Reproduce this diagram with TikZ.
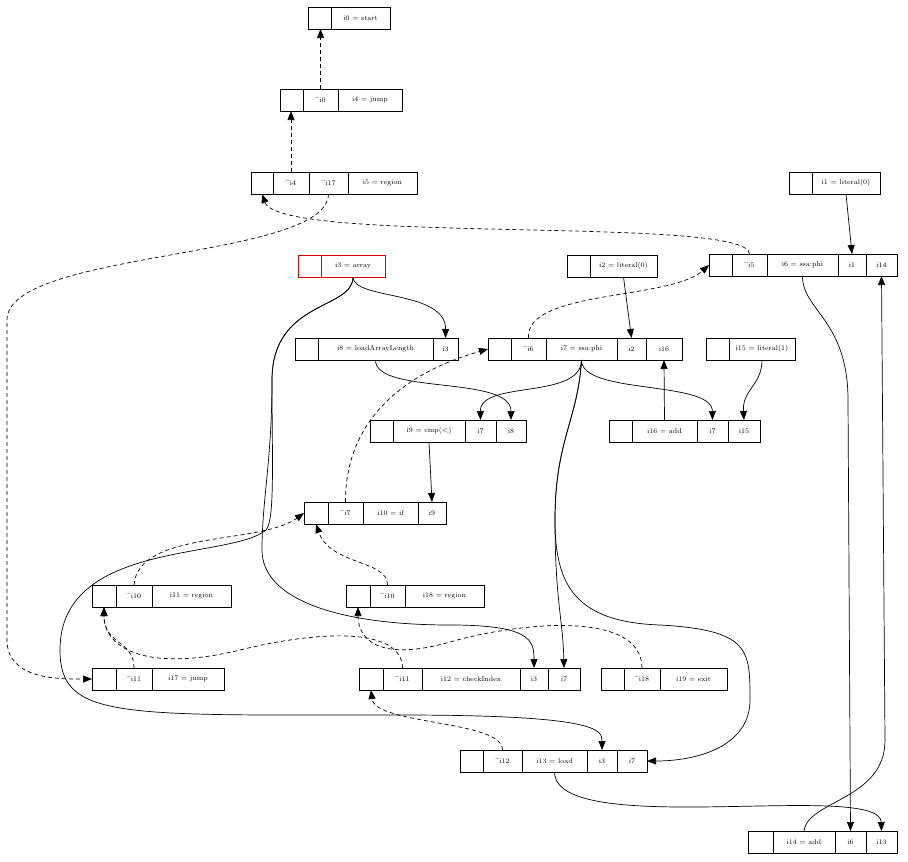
\documentclass[tikz,border=0pt]{standalone}
\usetikzlibrary{arrows.meta}
\tikzset{
  cell/.style={draw=black,line width=0.7pt,minimum height=22pt,inner sep=0pt,outer sep=0pt,font=\fontsize{7}{8}\selectfont},
  red cell/.style={cell,draw=red!85!black},
  flow/.style={draw=black,line width=0.7pt,-{Triangle[length=9pt,width=7pt]}},
  ctrl/.style={flow,dash pattern=on 4pt off 3pt}
}
% one cell of a record: style, name, left, right, y, text
\newcommand{\cell}[6]{%
  \pgfmathsetmacro\cw{#4-#3}\pgfmathsetmacro\cx{(#3+#4)/2}%
  \node[#1,minimum width=\cw pt] (#2) at (\cx,#5) {#6};}
\newcommand{\up}{\textasciicircum}
\begin{document}
\begin{tikzpicture}[x=1pt,y=1pt,yscale=-1]
\useasboundingbox (0,0) rectangle (908,862);

% records
\cell{cell}{i0x}{308}{331}{18}{}
\cell{cell}{i0}{331}{390}{18}{i0 = start}

\cell{cell}{i4x}{280}{303}{100}{}
\cell{cell}{i4p0}{303}{338}{100}{\up i0}
\cell{cell}{i4}{338}{402}{100}{i4 = jump}

\cell{cell}{i5x}{251}{273}{183}{}
\cell{cell}{i5p4}{273}{309}{183}{\up i4}
\cell{cell}{i5p17}{309}{348}{183}{\up i17}
\cell{cell}{i5}{348}{417}{183}{i5 = region}

\cell{cell}{i1x}{789}{812}{183}{}
\cell{cell}{i1}{812}{880}{183}{i1 = literal(0)}

\cell{cell}{i6x}{709}{732}{265}{}
\cell{cell}{i6p5}{732}{767}{265}{\up i5}
\cell{cell}{i6}{767}{838}{265}{i6 = ssa:phi}
\cell{cell}{i6a1}{838}{866}{265}{i1}
\cell{cell}{i6a14}{866}{897}{265}{i14}

\cell{red cell}{i3x}{298}{321}{266}{}
\cell{red cell}{i3}{321}{385}{266}{i3 = array}

\cell{cell}{i2x}{567}{590}{266}{}
\cell{cell}{i2}{590}{657}{266}{i2 = literal(0)}

\cell{cell}{i8x}{295}{318}{349}{}
\cell{cell}{i8}{318}{433}{349}{i8 = loadArrayLength}
\cell{cell}{i8a3}{433}{458}{349}{i3}

\cell{cell}{i7x}{488}{511}{349}{}
\cell{cell}{i7p6}{511}{546}{349}{\up i6}
\cell{cell}{i7}{546}{617}{349}{i7 = ssa:phi}
\cell{cell}{i7a2}{617}{646}{349}{i2}
\cell{cell}{i7a16}{646}{682}{349}{i16}

\cell{cell}{i15x}{706}{729}{349}{}
\cell{cell}{i15}{729}{795}{349}{i15 = literal(1)}

\cell{cell}{i9x}{370}{393}{431}{}
\cell{cell}{i9}{393}{465}{431}{i9 = cmp(<)}
\cell{cell}{i9a7}{465}{496}{431}{i7}
\cell{cell}{i9a8}{496}{526}{431}{i8}

\cell{cell}{i16x}{609}{632}{431}{}
\cell{cell}{i16}{632}{697}{431}{i16 = add}
\cell{cell}{i16a7}{697}{728}{431}{i7}
\cell{cell}{i16a15}{728}{760}{431}{i15}

\cell{cell}{i10x}{304}{328}{513}{}
\cell{cell}{i10p7}{328}{363}{513}{\up i7}
\cell{cell}{i10}{363}{418}{513}{i10 = if}
\cell{cell}{i10a9}{418}{446}{513}{i9}

\cell{cell}{i11x}{92}{116}{596}{}
\cell{cell}{i11p10}{116}{152}{596}{\up i10}
\cell{cell}{i11}{152}{231}{596}{i11 = region}

\cell{cell}{i18x}{346}{370}{596}{}
\cell{cell}{i18p10}{370}{405}{596}{\up i10}
\cell{cell}{i18}{405}{484}{596}{i18 = region}

\cell{cell}{i17x}{92}{116}{679}{}
\cell{cell}{i17p11}{116}{152}{679}{\up i11}
\cell{cell}{i17}{152}{224}{679}{i17 = jump}

\cell{cell}{i12x}{359}{383}{679}{}
\cell{cell}{i12p11}{383}{422}{679}{\up i11}
\cell{cell}{i12}{422}{520}{679}{i12 = checkIndex}
\cell{cell}{i12a3}{520}{548}{679}{i3}
\cell{cell}{i12a7}{548}{580}{679}{i7}

\cell{cell}{i19x}{601}{624}{679}{}
\cell{cell}{i19p18}{624}{660}{679}{\up i18}
\cell{cell}{i19}{660}{727}{679}{i19 = exit}

\cell{cell}{i13x}{460}{483}{761}{}
\cell{cell}{i13p12}{483}{522}{761}{\up i12}
\cell{cell}{i13}{522}{587}{761}{i13 = load}
\cell{cell}{i13a3}{587}{617}{761}{i3}
\cell{cell}{i13a7}{617}{647}{761}{i7}

\cell{cell}{i14x}{748}{773}{842}{}
\cell{cell}{i14}{773}{835}{842}{i14 = add}
\cell{cell}{i14a6}{835}{866}{842}{i6}
\cell{cell}{i14a13}{866}{897}{842}{i13}

% data edges
\draw[flow] (i1.south) -- (i6a1.north);
\draw[flow] (i2.south) -- (i7a2.north);
\draw[flow] (i9.south) -- (i10a9.north);
\draw[flow] (i16.north) -- (i7a16.south);
\draw[flow] (i15.south) .. controls (762,385) and (742,390) .. (i16a15.north);
\draw[flow] (i6.south) .. controls (802,310) and (848,320) .. (848,400) -- (i14a6.north);
\draw[flow] (i14.north) .. controls (808,800) and (885,800) .. (885,740) -- (i6a14.south);
\draw[flow] (i13.south) .. controls (555,840) and (880,780) .. (i14a13.north);
\draw[flow] (i3.south) .. controls (353,300) and (446,290) .. (i8a3.north);
\draw[flow] (i3.south) .. controls (353,310) and (272,300) .. (272,380)
  .. controls (272,460) and (262,500) .. (262,550)
  .. controls (262,600) and (340,625) .. (450,625)
  .. controls (530,625) and (534,640) .. (i12a3.north);
\draw[flow] (i3.south) .. controls (353,310) and (272,300) .. (272,380)
  .. controls (272,460) and (275,520) .. (266,530)
  .. controls (230,560) and (60,540) .. (60,650)
  .. controls (60,720) and (120,715) .. (400,715)
  .. controls (600,715) and (602,730) .. (i13a3.north);
\draw[flow] (i8.south) .. controls (375,395) and (511,375) .. (i9a8.north);
\draw[flow] (i7.south) .. controls (581,400) and (480,380) .. (i9a7.north);
\draw[flow] (i7.south) .. controls (581,395) and (712,380) .. (i16a7.north);
\draw[flow] (i7.south) .. controls (578,420) and (555,440) .. (555,520)
  .. controls (555,600) and (563,620) .. (i12a7.north);
\draw[flow] (i7.south) .. controls (578,420) and (555,440) .. (555,520)
  .. controls (555,585) and (575,622) .. (660,625)
  .. controls (750,630) and (750,650) .. (750,700)
  .. controls (750,745) and (700,761) .. (i13a7.east);

% control edges
\draw[ctrl] (i4p0.north) -- (i0x.south -| i4p0.north);
\draw[ctrl] (i5p4.north) -- (i4x.south -| i5p4.north);
\draw[ctrl] (i5p17.south) .. controls (328,260) and (7,250) .. (7,320)
  -- (7,640) .. controls (7,680) and (60,679) .. (i17x.west);
\draw[ctrl] (i6p5.north) .. controls (749,215) and (280,245) .. (i5x.south);
\draw[ctrl] (i7p6.north) .. controls (525,290) and (670,300) .. (i6x.west);
\draw[ctrl] (i10p7.north) .. controls (345,440) and (380,380) .. (i7x.west);
\draw[ctrl] (i11p10.north) .. controls (138,530) and (260,545) .. (i10x.west);
\draw[ctrl] (i18p10.north) .. controls (388,560) and (330,565) .. (i10x.south);
\draw[ctrl] (i17p11.north) .. controls (134,640) and (104,645) .. (i11x.south);
\draw[ctrl] (i12p11.north) .. controls (402,630) and (330,628) .. (240,650)
  .. controls (150,672) and (104,650) .. (i11x.south);
\draw[ctrl] (i19p18.north) .. controls (642,610) and (520,622) .. (450,642)
  .. controls (380,662) and (358,640) .. (i18x.south);
\draw[ctrl] (i13p12.north) .. controls (503,720) and (375,725) .. (i12x.south);
\end{tikzpicture}
\end{document}
